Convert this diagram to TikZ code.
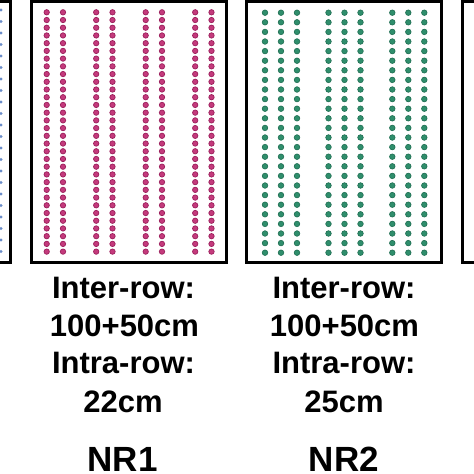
\documentclass[tikz,border=0pt]{standalone}
\usepackage{fontspec}
\setmainfont{Liberation Sans}
\definecolor{pinkfill}{HTML}{C43A7C}
\definecolor{pinkline}{HTML}{9C1F5C}
\definecolor{greenfill}{HTML}{2F8E6C}
\definecolor{greenline}{HTML}{1F6E52}
\definecolor{bluefill}{HTML}{6A8CC8}
\tikzset{
  plotbox/.style={draw=black, line width=3pt, fill=white},
  pdot/.style={circle, fill=pinkfill, draw=pinkline, line width=0.7pt, inner sep=0pt, minimum size=5.4pt},
  gdot/.style={circle, fill=greenfill, draw=greenline, line width=0.6pt, inner sep=0pt, minimum size=5.6pt},
  bdot/.style={circle, fill=bluefill, inner sep=0pt, minimum size=3.4pt},
  lbl/.style={anchor=base, font=\bfseries\fontsize{31}{31}\selectfont, inner sep=0pt},
  tag/.style={anchor=base, font=\bfseries\fontsize{35}{35}\selectfont, inner sep=0pt, text depth=0pt}
}
\begin{document}
\begin{tikzpicture}[x=1pt,y=-1pt]
\useasboundingbox (0,0) rectangle (474,474);
\begin{scope}
\clip (0,0) rectangle (474,474);
% left partial box
\draw[plotbox] (-40,1.5) rectangle (10.5,262);
\foreach \j in {0,...,21} \node[bdot] at (1,10+11.5*\j) {};
% pink box
\draw[plotbox] (31,1.5) rectangle (226,262.5);
\foreach \cx in {46.7,96.2,145.7,195.2}{
  \foreach \j in {0,...,31}{
    \node[pdot] at (\cx,12.3+7.72*\j) {};
    \node[pdot] at (\cx+16.3,12.3+7.72*\j) {};
  }
}
% green box
\draw[plotbox] (246.5,1.5) rectangle (441.5,262.5);
\foreach \cx in {265,328.5,392.3}{
  \foreach \j in {0,...,25}{
    \node[gdot] at (\cx,12.7+9.6*\j) {};
    \node[gdot] at (\cx+16,12.7+9.6*\j) {};
    \node[gdot] at (\cx+32,12.7+9.6*\j) {};
  }
}
% right partial box
\draw[plotbox] (462,1.5) rectangle (520,262.5);
\end{scope}
% labels NR1
\node[lbl] (a1) at (123.5,298) {Inter-row:};
\node[lbl] (a2) at (124.5,336.5) {100+50cm};
\node[lbl] (a3) at (123.5,373.5) {Intra-row:};
\node[lbl] (a4) at (123,412.5) {22cm};
\node[tag] (a5) at (122.5,471) {NR1};
% labels NR2
\node[lbl] (b1) at (344,298) {Inter-row:};
\node[lbl] (b2) at (344.5,336.5) {100+50cm};
\node[lbl] (b3) at (344,373.5) {Intra-row:};
\node[lbl] (b4) at (344,412.5) {25cm};
\node[tag] (b5) at (344,471) {NR2};
\end{tikzpicture}
\end{document}
